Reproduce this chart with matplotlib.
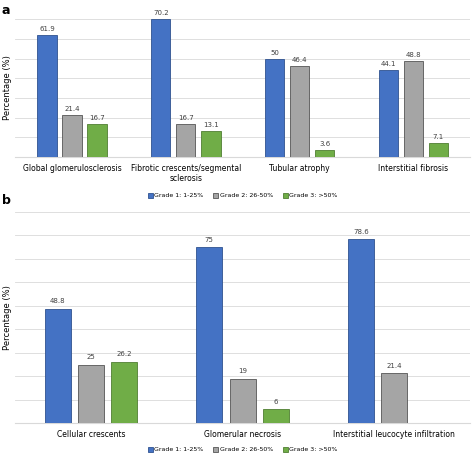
import matplotlib
matplotlib.use('Agg')
import matplotlib.pyplot as plt
import numpy as np

plt.rcParams['font.family'] = ['DejaVu Sans']

grades = ["Grade 1: 1-25%", "Grade 2: 26-50%", "Grade 3: >50%"]
colors = ["#4472C4", "#A5A5A5", "#70AD47"]
edges = ["#2F528F", "#555555", "#507E32"]

cats_a = ["Global glomerulosclerosis", "Fibrotic crescents/segmental\nsclerosis",
          "Tubular atrophy", "Interstitial fibrosis"]
g1_a = [61.9, 70.2, 50, 44.1]
g2_a = [21.4, 16.7, 46.4, 48.8]
g3_a = [16.7, 13.1, 3.6, 7.1]

cats_b = ["Cellular crescents", "Glomerular necrosis", "Interstitial leucocyte infiltration"]
g1_b = [48.8, 75, 78.6]
g2_b = [25, 19, 21.4]
g3_b = [26.2, 6, None]


def panel(ax, cats, series, ymax, letter, legend_y):
    x = np.arange(len(cats))
    w = 0.17
    offs = [-0.22, 0, 0.22]
    for s, vals in enumerate(series):
        for i, v in enumerate(vals):
            if v is None:
                continue
            ax.bar(x[i] + offs[s], v, w, color=colors[s], edgecolor=edges[s], linewidth=0.6, zorder=3)
            ax.text(x[i] + offs[s], v + ymax * 0.02, f"{v:g}", ha='center', va='bottom',
                    fontsize=5, color='#404040')
    ax.set_xlim(-0.5, len(cats) - 0.5)
    ax.set_ylim(0, ymax)
    ax.set_yticks(np.arange(0, ymax + 1, 10))
    ax.yaxis.grid(True, color='#d9d9d9', linewidth=0.6, zorder=0)
    ax.tick_params(axis='y', length=0, labelleft=False)
    ax.tick_params(axis='x', length=0, labelsize=5.5, pad=5)
    ax.set_xticks(x)
    ax.set_xticklabels(cats)
    for sp in ['top', 'right', 'left']:
        ax.spines[sp].set_visible(False)
    ax.spines['bottom'].set_color('#d9d9d9')
    ax.set_ylabel("Percentage (%)", fontsize=6, labelpad=2)
    ax.text(-0.03, 1.04, letter, transform=ax.transAxes, fontsize=9, fontweight='bold')
    handles = [plt.Rectangle((0, 0), 1, 1, facecolor=c, edgecolor=e, linewidth=0.6)
               for c, e in zip(colors, edges)]
    ax.legend(handles, grades, loc='center', bbox_to_anchor=(0.5, legend_y), ncol=3,
              frameon=False, fontsize=4.5, handlelength=0.8, handleheight=0.8,
              columnspacing=1.5, handletextpad=0.3)


fig = plt.figure(figsize=(4.74, 4.55), dpi=100, facecolor='white')
ax_a = fig.add_axes([0.032, 0.655, 0.96, 0.303])
ax_b = fig.add_axes([0.032, 0.070, 0.96, 0.464])
panel(ax_a, cats_a, [g1_a, g2_a, g3_a], 70, 'a', -0.28)
panel(ax_b, cats_b, [g1_b, g2_b, g3_b], 90, 'b', -0.125)
ax_a.text(-0.03, 1.04, '', transform=ax_a.transAxes)

fig.savefig('out.png', dpi=100, facecolor='white')
